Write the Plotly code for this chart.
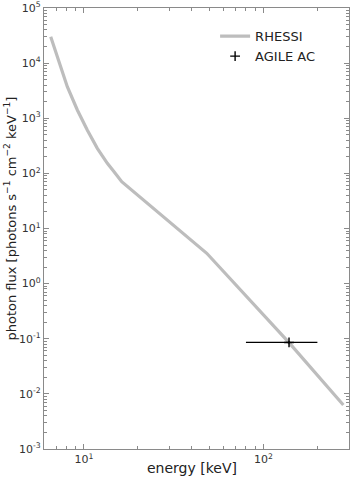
import plotly.graph_objects as go

# RHESSI spectrum (energy keV, photon flux)
rhessi_energy = [6.54, 7.12, 8.09, 9.20, 10.45, 11.89, 13.52, 14.7, 15.70, 16.26, 48.4, 139.0, 279.0]
rhessi_flux = [30100, 13100, 3730, 1413, 612, 285, 152, 108, 81.5, 70.7, 3.55, 0.0851, 0.00628]

# AGILE AC point
agile_energy = [139.0]
agile_flux = [0.0857]
agile_e_low = [80.0]
agile_e_high = [200.0]
agile_flux_err = [0.004]

xtick_exp = [1, 2]
ytick_exp = [-3, -2, -1, 0, 1, 2, 3, 4, 5]


def sup(e):
    return "10<sup>%s</sup>" % e


def minor_vals(lo, hi):
    return [m * 10 ** d for d in range(lo, hi) for m in range(2, 10)]


fig = go.Figure()
fig.add_trace(go.Scatter(
    x=rhessi_energy, y=rhessi_flux, mode="lines", name="RHESSI",
    line=dict(color="#bdbdbd", width=3.2),
))
fig.add_trace(go.Scatter(
    x=agile_energy, y=agile_flux, mode="markers", name="AGILE AC",
    marker=dict(symbol="cross-thin", size=7, color="black", line=dict(width=1.4, color="black")),
    error_x=dict(type="data", symmetric=False,
                 array=[h - c for h, c in zip(agile_e_high, agile_energy)],
                 arrayminus=[c - l for l, c in zip(agile_e_low, agile_energy)],
                 color="black", thickness=1.3, width=0),
    error_y=dict(type="data", array=agile_flux_err, color="black", thickness=1.3, width=0),
))

axis_common = dict(
    type="log", showgrid=False, zeroline=False, automargin=False,
    showline=True, linecolor="#8a8a8a", linewidth=1.2, mirror="allticks",
    ticks="inside", ticklen=5, tickcolor="#8a8a8a",
    tickfont=dict(family="DejaVu Sans", size=11, color="#333333"),
)

fig.update_xaxes(
    **axis_common, range=[0.77815, 2.47712],
    tickvals=[10 ** e for e in xtick_exp], ticktext=[sup(e) for e in xtick_exp],
    minor=dict(ticks="inside", ticklen=2.5, tickcolor="#8a8a8a", tickvals=minor_vals(0, 3)),
)
fig.update_yaxes(
    **axis_common, range=[-3, 5],
    tickvals=[10 ** e for e in ytick_exp], ticktext=[sup(e) for e in ytick_exp],
    minor=dict(ticks="inside", ticklen=2.5, tickcolor="#8a8a8a", tickvals=minor_vals(-3, 5)),
)

fig.add_annotation(
    text="energy [keV]", xref="paper", yref="paper", x=0.5, y=0, yshift=-19, xshift=-5,
    xanchor="center", yanchor="middle", showarrow=False,
    font=dict(family="DejaVu Sans", size=14, color="#222222"),
)
fig.add_annotation(
    text="photon flux [photons s<sup>−1</sup> cm<sup>−2</sup> keV<sup>−1</sup>]",
    xref="paper", yref="paper", x=0, y=0.5, xshift=-34, yshift=10, textangle=-90,
    xanchor="center", yanchor="middle", showarrow=False,
    font=dict(family="DejaVu Sans", size=13, color="#222222"),
)

fig.update_layout(
    width=350, height=481,
    margin=dict(l=44, r=1, t=8, b=32),
    paper_bgcolor="white", plot_bgcolor="white",
    showlegend=True,
    legend=dict(x=0.561, y=0.97, xanchor="left", yanchor="top",
                bgcolor="rgba(0,0,0,0)", borderwidth=0,
                font=dict(family="DejaVu Sans", size=13, color="#222222"),
                itemwidth=30, tracegroupgap=0),
)

fig.write_html("out.html", config={"displayModeBar": False},
               post_script="document.body.style.margin='0';document.body.style.overflow='hidden';")
